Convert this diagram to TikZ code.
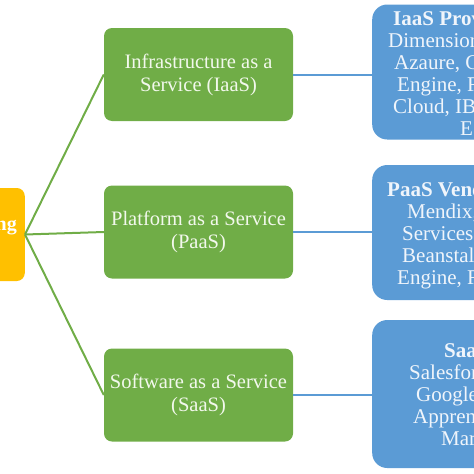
\documentclass[tikz,border=0pt]{standalone}
\usepackage{fontspec}
\setmainfont{Liberation Serif}
\definecolor{hubyellow}{HTML}{FFC000}
\definecolor{svcgreen}{HTML}{70AD47}
\definecolor{vendblue}{HTML}{5B9BD5}
\definecolor{svctext}{HTML}{F2F8EC}
\definecolor{vendtext}{HTML}{F0F5FB}
\begin{document}
\begin{tikzpicture}[x=1pt,y=-1pt,
    hub node/.style={fill=hubyellow,rounded corners=8pt,minimum width=120pt,minimum height=93pt,anchor=east},
    hub text/.style={text=white,font=\fontsize{20}{23}\selectfont\bfseries,inner sep=0pt,anchor=base east},
    svc node/.style={fill=svcgreen,rounded corners=8pt,minimum width=189pt,minimum height=93pt,text=svctext,font=\fontsize{20.5}{23}\selectfont,align=center,inner sep=0pt},
    vend node/.style={fill=vendblue,rounded corners=15pt,minimum width=160pt,anchor=west},
    vend line/.style={text=vendtext,font=\fontsize{21}{23}\selectfont,inner sep=0pt,anchor=base west}]
    \useasboundingbox (0,0) rectangle (474,474);
    \clip (0,0) rectangle (474,474);

    \node[hub node] (hub) at (25,234.5) {};
    \node[hub text] (hublabel) at (17,230) {ng};

    \node[svc node] (iaas) at (198.5,74.5) {Infrastructure as a\\Service (IaaS)};
    \node[svc node] (paas) at (198.5,232) {Platform as a Service\\(PaaS)};
    \node[svc node] (saas) at (198.5,395) {Software as a Service\\(SaaS)};

    \node[vend node,minimum height=135pt] (iaasv) at (372,72) {};
    \node[vend node,minimum height=135pt] (paasv) at (372,232.5) {};
    \node[vend node,minimum height=148pt] (saasv) at (372,394) {};

    \path[draw=svcgreen,line width=2pt]
        (hub.east) edge (iaas.west)
        (hub.east) edge (paas.west)
        (hub.east) edge (saas.west);
    \path[draw=vendblue,line width=2pt]
        (iaas.east) edge (iaas.east -| iaasv.west)
        (paas.east) edge (paas.east -| paasv.west)
        (saas.east) edge (saas.east -| saasv.west);

    % vendor lists, cut off by the right edge
    \foreach \x/\y/\t in {393/25/\textbf{IaaS Provi}, 388/47/Dimension, 394/69/{Azaure, G},
        397/91/{Engine, R}, 393/113/{Cloud, IB}, 460/135/E}
        \node[vend line] at (\x,\y) {\t};
    \foreach \x/\y/\t in {387/196/\textbf{PaaS Vend}, 407/218/{Mendix,}, 402/240/Services,
        402/262/Beanstal, 397/284/{Engine, R}}
        \node[vend line] at (\x,\y) {\t};
    \foreach \x/\y/\t in {444/357/\textbf{SaaS}, 409/379/Salesforc, 416/401/Google,
        413/423/Appren, 441/445/Mar}
        \node[vend line] at (\x,\y) {\t};
\end{tikzpicture}
\end{document}
